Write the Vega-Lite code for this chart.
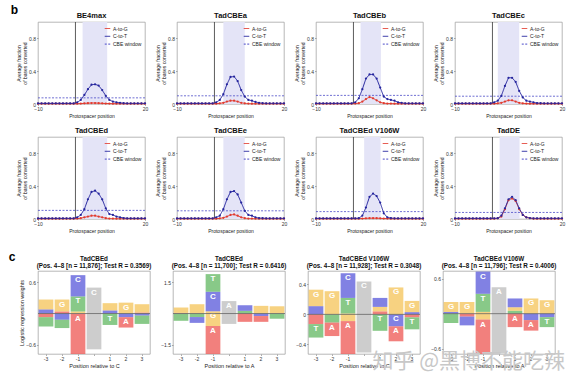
{
"$schema": "https://vega.github.io/schema/vega-lite/v6.json",
"background": "white",
"padding": {"left": 8, "top": 3, "right": 2, "bottom": 2},
"title": {"text": "知乎 @黑博不能吃辣", "orient": "bottom", "anchor": "end", "font": "Noto Sans CJK SC", "fontSize": 21, "fontWeight": "normal", "color": "#c8c8c8", "offset": -18, "dx": 0},
"config": {
  "font": "Liberation Sans",
  "view": {"stroke": "#9a9a9a", "strokeWidth": 0.7},
  "axis": {"labelFontSize": 5, "titleFontSize": 5, "titleFontWeight": "normal", "tickSize": 1.5, "tickWidth": 0.6, "tickColor": "#777", "labelPadding": 1, "titlePadding": 1.5, "domain": false, "grid": false, "labelColor": "#333", "titleColor": "#222", "titleLineHeight": 5.5, "labelOverlap": false, "labelFlush": false},
  "title": {"fontSize": 7.5, "fontWeight": "bold", "offset": 2, "color": "#111"},
  "legend": {"orient": "top-right", "offset": 3, "padding": 0, "rowPadding": 0.8, "labelFontSize": 5, "symbolSize": 30, "symbolStrokeWidth": 1, "symbolType": "stroke", "labelOffset": 2, "labelColor": "#222"}
},
"datasets": {
"windows": [
{"p":"BE4max","lo":2.5,"hi":9.4,"thr":0.075},
{"p":"TadCBEa","lo":3,"hi":9,"thr":0.1},
{"p":"TadCBEb","lo":2.5,"hi":8.2,"thr":0.105},
{"p":"TadCBEc","lo":2,"hi":8,"thr":0.095},
{"p":"TadCBEd","lo":2.5,"hi":9.4,"thr":0.105},
{"p":"TadCBEe","lo":3,"hi":9,"thr":0.1},
{"p":"TadCBEd V106W","lo":3.5,"hi":8.1,"thr":0.09},
{"p":"TadDE","lo":2.5,"hi":8.1,"thr":0.08}
],
"curves": [
{"p":"BE4max","x":-10,"A-to-G":0.004,"C-to-T":0.008},{"p":"BE4max","x":-9,"A-to-G":0.004,"C-to-T":0.008},{"p":"BE4max","x":-8,"A-to-G":0.004,"C-to-T":0.008},{"p":"BE4max","x":-7,"A-to-G":0.004,"C-to-T":0.008},{"p":"BE4max","x":-6,"A-to-G":0.004,"C-to-T":0.008},{"p":"BE4max","x":-5,"A-to-G":0.004,"C-to-T":0.008},{"p":"BE4max","x":-4,"A-to-G":0.004,"C-to-T":0.008},{"p":"BE4max","x":-3,"A-to-G":0.004,"C-to-T":0.008},{"p":"BE4max","x":-2,"A-to-G":0.004,"C-to-T":0.008},{"p":"BE4max","x":-1,"A-to-G":0.004,"C-to-T":0.008},{"p":"BE4max","x":0,"A-to-G":0.004,"C-to-T":0.008},
{"p":"BE4max","x":1,"A-to-G":0.004,"C-to-T":0.02},{"p":"BE4max","x":2,"A-to-G":0.005,"C-to-T":0.05},{"p":"BE4max","x":3,"A-to-G":0.008,"C-to-T":0.11},{"p":"BE4max","x":4,"A-to-G":0.01,"C-to-T":0.18},{"p":"BE4max","x":5,"A-to-G":0.012,"C-to-T":0.235},{"p":"BE4max","x":6,"A-to-G":0.012,"C-to-T":0.24},{"p":"BE4max","x":7,"A-to-G":0.01,"C-to-T":0.225},{"p":"BE4max","x":8,"A-to-G":0.008,"C-to-T":0.17},{"p":"BE4max","x":9,"A-to-G":0.006,"C-to-T":0.1},{"p":"BE4max","x":10,"A-to-G":0.005,"C-to-T":0.05},{"p":"BE4max","x":11,"A-to-G":0.004,"C-to-T":0.03},{"p":"BE4max","x":12,"A-to-G":0.004,"C-to-T":0.02},{"p":"BE4max","x":13,"A-to-G":0.004,"C-to-T":0.015},{"p":"BE4max","x":14,"A-to-G":0.004,"C-to-T":0.01},
{"p":"BE4max","x":15,"A-to-G":0.004,"C-to-T":0.008},{"p":"BE4max","x":16,"A-to-G":0.004,"C-to-T":0.008},{"p":"BE4max","x":17,"A-to-G":0.004,"C-to-T":0.008},{"p":"BE4max","x":18,"A-to-G":0.004,"C-to-T":0.008},{"p":"BE4max","x":19,"A-to-G":0.004,"C-to-T":0.008},{"p":"BE4max","x":20,"A-to-G":0.004,"C-to-T":0.008},

{"p":"TadCBEa","x":-10,"A-to-G":0.004,"C-to-T":0.008},{"p":"TadCBEa","x":-9,"A-to-G":0.004,"C-to-T":0.008},{"p":"TadCBEa","x":-8,"A-to-G":0.004,"C-to-T":0.008},{"p":"TadCBEa","x":-7,"A-to-G":0.004,"C-to-T":0.008},{"p":"TadCBEa","x":-6,"A-to-G":0.004,"C-to-T":0.008},{"p":"TadCBEa","x":-5,"A-to-G":0.004,"C-to-T":0.008},{"p":"TadCBEa","x":-4,"A-to-G":0.004,"C-to-T":0.008},{"p":"TadCBEa","x":-3,"A-to-G":0.004,"C-to-T":0.008},{"p":"TadCBEa","x":-2,"A-to-G":0.004,"C-to-T":0.008},{"p":"TadCBEa","x":-1,"A-to-G":0.004,"C-to-T":0.008},{"p":"TadCBEa","x":0,"A-to-G":0.004,"C-to-T":0.008},
{"p":"TadCBEa","x":1,"A-to-G":0.004,"C-to-T":0.02},{"p":"TadCBEa","x":2,"A-to-G":0.008,"C-to-T":0.05},{"p":"TadCBEa","x":3,"A-to-G":0.015,"C-to-T":0.12},{"p":"TadCBEa","x":4,"A-to-G":0.03,"C-to-T":0.24},{"p":"TadCBEa","x":5,"A-to-G":0.04,"C-to-T":0.33},{"p":"TadCBEa","x":6,"A-to-G":0.04,"C-to-T":0.335},{"p":"TadCBEa","x":7,"A-to-G":0.03,"C-to-T":0.28},{"p":"TadCBEa","x":8,"A-to-G":0.015,"C-to-T":0.17},{"p":"TadCBEa","x":9,"A-to-G":0.008,"C-to-T":0.09},{"p":"TadCBEa","x":10,"A-to-G":0.005,"C-to-T":0.05},{"p":"TadCBEa","x":11,"A-to-G":0.004,"C-to-T":0.04},{"p":"TadCBEa","x":12,"A-to-G":0.004,"C-to-T":0.025},{"p":"TadCBEa","x":13,"A-to-G":0.004,"C-to-T":0.015},{"p":"TadCBEa","x":14,"A-to-G":0.004,"C-to-T":0.01},
{"p":"TadCBEa","x":15,"A-to-G":0.004,"C-to-T":0.008},{"p":"TadCBEa","x":16,"A-to-G":0.004,"C-to-T":0.008},{"p":"TadCBEa","x":17,"A-to-G":0.004,"C-to-T":0.008},{"p":"TadCBEa","x":18,"A-to-G":0.004,"C-to-T":0.008},{"p":"TadCBEa","x":19,"A-to-G":0.004,"C-to-T":0.008},{"p":"TadCBEa","x":20,"A-to-G":0.004,"C-to-T":0.008},

{"p":"TadCBEb","x":-10,"A-to-G":0.004,"C-to-T":0.008},{"p":"TadCBEb","x":-9,"A-to-G":0.004,"C-to-T":0.008},{"p":"TadCBEb","x":-8,"A-to-G":0.004,"C-to-T":0.008},{"p":"TadCBEb","x":-7,"A-to-G":0.004,"C-to-T":0.008},{"p":"TadCBEb","x":-6,"A-to-G":0.004,"C-to-T":0.008},{"p":"TadCBEb","x":-5,"A-to-G":0.004,"C-to-T":0.008},{"p":"TadCBEb","x":-4,"A-to-G":0.004,"C-to-T":0.008},{"p":"TadCBEb","x":-3,"A-to-G":0.004,"C-to-T":0.008},{"p":"TadCBEb","x":-2,"A-to-G":0.004,"C-to-T":0.008},{"p":"TadCBEb","x":-1,"A-to-G":0.004,"C-to-T":0.008},{"p":"TadCBEb","x":0,"A-to-G":0.004,"C-to-T":0.008},
{"p":"TadCBEb","x":1,"A-to-G":0.005,"C-to-T":0.02},{"p":"TadCBEb","x":2,"A-to-G":0.01,"C-to-T":0.07},{"p":"TadCBEb","x":3,"A-to-G":0.03,"C-to-T":0.18},{"p":"TadCBEb","x":4,"A-to-G":0.06,"C-to-T":0.31},{"p":"TadCBEb","x":5,"A-to-G":0.085,"C-to-T":0.36},{"p":"TadCBEb","x":6,"A-to-G":0.07,"C-to-T":0.36},{"p":"TadCBEb","x":7,"A-to-G":0.045,"C-to-T":0.31},{"p":"TadCBEb","x":8,"A-to-G":0.02,"C-to-T":0.2},{"p":"TadCBEb","x":9,"A-to-G":0.01,"C-to-T":0.09},{"p":"TadCBEb","x":10,"A-to-G":0.006,"C-to-T":0.06},{"p":"TadCBEb","x":11,"A-to-G":0.005,"C-to-T":0.05},{"p":"TadCBEb","x":12,"A-to-G":0.004,"C-to-T":0.04},{"p":"TadCBEb","x":13,"A-to-G":0.004,"C-to-T":0.02},{"p":"TadCBEb","x":14,"A-to-G":0.004,"C-to-T":0.015},
{"p":"TadCBEb","x":15,"A-to-G":0.004,"C-to-T":0.008},{"p":"TadCBEb","x":16,"A-to-G":0.004,"C-to-T":0.008},{"p":"TadCBEb","x":17,"A-to-G":0.004,"C-to-T":0.008},{"p":"TadCBEb","x":18,"A-to-G":0.004,"C-to-T":0.008},{"p":"TadCBEb","x":19,"A-to-G":0.004,"C-to-T":0.008},{"p":"TadCBEb","x":20,"A-to-G":0.004,"C-to-T":0.008},

{"p":"TadCBEc","x":-10,"A-to-G":0.004,"C-to-T":0.008},{"p":"TadCBEc","x":-9,"A-to-G":0.004,"C-to-T":0.008},{"p":"TadCBEc","x":-8,"A-to-G":0.004,"C-to-T":0.008},{"p":"TadCBEc","x":-7,"A-to-G":0.004,"C-to-T":0.008},{"p":"TadCBEc","x":-6,"A-to-G":0.004,"C-to-T":0.008},{"p":"TadCBEc","x":-5,"A-to-G":0.004,"C-to-T":0.008},{"p":"TadCBEc","x":-4,"A-to-G":0.004,"C-to-T":0.008},{"p":"TadCBEc","x":-3,"A-to-G":0.004,"C-to-T":0.008},{"p":"TadCBEc","x":-2,"A-to-G":0.004,"C-to-T":0.008},{"p":"TadCBEc","x":-1,"A-to-G":0.004,"C-to-T":0.008},{"p":"TadCBEc","x":0,"A-to-G":0.004,"C-to-T":0.008},
{"p":"TadCBEc","x":1,"A-to-G":0.004,"C-to-T":0.02},{"p":"TadCBEc","x":2,"A-to-G":0.008,"C-to-T":0.04},{"p":"TadCBEc","x":3,"A-to-G":0.015,"C-to-T":0.1},{"p":"TadCBEc","x":4,"A-to-G":0.03,"C-to-T":0.22},{"p":"TadCBEc","x":5,"A-to-G":0.045,"C-to-T":0.32},{"p":"TadCBEc","x":6,"A-to-G":0.045,"C-to-T":0.32},{"p":"TadCBEc","x":7,"A-to-G":0.03,"C-to-T":0.27},{"p":"TadCBEc","x":8,"A-to-G":0.015,"C-to-T":0.16},{"p":"TadCBEc","x":9,"A-to-G":0.008,"C-to-T":0.08},{"p":"TadCBEc","x":10,"A-to-G":0.005,"C-to-T":0.04},{"p":"TadCBEc","x":11,"A-to-G":0.004,"C-to-T":0.03},{"p":"TadCBEc","x":12,"A-to-G":0.004,"C-to-T":0.02},{"p":"TadCBEc","x":13,"A-to-G":0.004,"C-to-T":0.012},{"p":"TadCBEc","x":14,"A-to-G":0.004,"C-to-T":0.01},
{"p":"TadCBEc","x":15,"A-to-G":0.004,"C-to-T":0.008},{"p":"TadCBEc","x":16,"A-to-G":0.004,"C-to-T":0.008},{"p":"TadCBEc","x":17,"A-to-G":0.004,"C-to-T":0.008},{"p":"TadCBEc","x":18,"A-to-G":0.004,"C-to-T":0.008},{"p":"TadCBEc","x":19,"A-to-G":0.004,"C-to-T":0.008},{"p":"TadCBEc","x":20,"A-to-G":0.004,"C-to-T":0.008},

{"p":"TadCBEd","x":-10,"A-to-G":0.004,"C-to-T":0.008},{"p":"TadCBEd","x":-9,"A-to-G":0.004,"C-to-T":0.008},{"p":"TadCBEd","x":-8,"A-to-G":0.004,"C-to-T":0.008},{"p":"TadCBEd","x":-7,"A-to-G":0.004,"C-to-T":0.008},{"p":"TadCBEd","x":-6,"A-to-G":0.004,"C-to-T":0.008},{"p":"TadCBEd","x":-5,"A-to-G":0.004,"C-to-T":0.008},{"p":"TadCBEd","x":-4,"A-to-G":0.004,"C-to-T":0.008},{"p":"TadCBEd","x":-3,"A-to-G":0.004,"C-to-T":0.008},{"p":"TadCBEd","x":-2,"A-to-G":0.004,"C-to-T":0.008},{"p":"TadCBEd","x":-1,"A-to-G":0.004,"C-to-T":0.008},{"p":"TadCBEd","x":0,"A-to-G":0.004,"C-to-T":0.008},
{"p":"TadCBEd","x":1,"A-to-G":0.005,"C-to-T":0.02},{"p":"TadCBEd","x":2,"A-to-G":0.01,"C-to-T":0.05},{"p":"TadCBEd","x":3,"A-to-G":0.02,"C-to-T":0.12},{"p":"TadCBEd","x":4,"A-to-G":0.03,"C-to-T":0.24},{"p":"TadCBEd","x":5,"A-to-G":0.04,"C-to-T":0.33},{"p":"TadCBEd","x":6,"A-to-G":0.04,"C-to-T":0.345},{"p":"TadCBEd","x":7,"A-to-G":0.03,"C-to-T":0.31},{"p":"TadCBEd","x":8,"A-to-G":0.02,"C-to-T":0.24},{"p":"TadCBEd","x":9,"A-to-G":0.01,"C-to-T":0.13},{"p":"TadCBEd","x":10,"A-to-G":0.006,"C-to-T":0.06},{"p":"TadCBEd","x":11,"A-to-G":0.005,"C-to-T":0.05},{"p":"TadCBEd","x":12,"A-to-G":0.004,"C-to-T":0.03},{"p":"TadCBEd","x":13,"A-to-G":0.004,"C-to-T":0.02},{"p":"TadCBEd","x":14,"A-to-G":0.004,"C-to-T":0.012},
{"p":"TadCBEd","x":15,"A-to-G":0.004,"C-to-T":0.008},{"p":"TadCBEd","x":16,"A-to-G":0.004,"C-to-T":0.008},{"p":"TadCBEd","x":17,"A-to-G":0.004,"C-to-T":0.008},{"p":"TadCBEd","x":18,"A-to-G":0.004,"C-to-T":0.008},{"p":"TadCBEd","x":19,"A-to-G":0.004,"C-to-T":0.008},{"p":"TadCBEd","x":20,"A-to-G":0.004,"C-to-T":0.008},

{"p":"TadCBEe","x":-10,"A-to-G":0.004,"C-to-T":0.008},{"p":"TadCBEe","x":-9,"A-to-G":0.004,"C-to-T":0.008},{"p":"TadCBEe","x":-8,"A-to-G":0.004,"C-to-T":0.008},{"p":"TadCBEe","x":-7,"A-to-G":0.004,"C-to-T":0.008},{"p":"TadCBEe","x":-6,"A-to-G":0.004,"C-to-T":0.008},{"p":"TadCBEe","x":-5,"A-to-G":0.004,"C-to-T":0.008},{"p":"TadCBEe","x":-4,"A-to-G":0.004,"C-to-T":0.008},{"p":"TadCBEe","x":-3,"A-to-G":0.004,"C-to-T":0.008},{"p":"TadCBEe","x":-2,"A-to-G":0.004,"C-to-T":0.008},{"p":"TadCBEe","x":-1,"A-to-G":0.004,"C-to-T":0.008},{"p":"TadCBEe","x":0,"A-to-G":0.004,"C-to-T":0.008},
{"p":"TadCBEe","x":1,"A-to-G":0.004,"C-to-T":0.02},{"p":"TadCBEe","x":2,"A-to-G":0.008,"C-to-T":0.04},{"p":"TadCBEe","x":3,"A-to-G":0.015,"C-to-T":0.12},{"p":"TadCBEe","x":4,"A-to-G":0.03,"C-to-T":0.24},{"p":"TadCBEe","x":5,"A-to-G":0.05,"C-to-T":0.33},{"p":"TadCBEe","x":6,"A-to-G":0.055,"C-to-T":0.34},{"p":"TadCBEe","x":7,"A-to-G":0.04,"C-to-T":0.3},{"p":"TadCBEe","x":8,"A-to-G":0.02,"C-to-T":0.2},{"p":"TadCBEe","x":9,"A-to-G":0.01,"C-to-T":0.1},{"p":"TadCBEe","x":10,"A-to-G":0.006,"C-to-T":0.05},{"p":"TadCBEe","x":11,"A-to-G":0.005,"C-to-T":0.04},{"p":"TadCBEe","x":12,"A-to-G":0.004,"C-to-T":0.02},{"p":"TadCBEe","x":13,"A-to-G":0.004,"C-to-T":0.012},{"p":"TadCBEe","x":14,"A-to-G":0.004,"C-to-T":0.01},
{"p":"TadCBEe","x":15,"A-to-G":0.004,"C-to-T":0.008},{"p":"TadCBEe","x":16,"A-to-G":0.004,"C-to-T":0.008},{"p":"TadCBEe","x":17,"A-to-G":0.004,"C-to-T":0.008},{"p":"TadCBEe","x":18,"A-to-G":0.004,"C-to-T":0.008},{"p":"TadCBEe","x":19,"A-to-G":0.004,"C-to-T":0.008},{"p":"TadCBEe","x":20,"A-to-G":0.004,"C-to-T":0.008},

{"p":"TadCBEd V106W","x":-10,"A-to-G":0.004,"C-to-T":0.008},{"p":"TadCBEd V106W","x":-9,"A-to-G":0.004,"C-to-T":0.008},{"p":"TadCBEd V106W","x":-8,"A-to-G":0.004,"C-to-T":0.008},{"p":"TadCBEd V106W","x":-7,"A-to-G":0.004,"C-to-T":0.008},{"p":"TadCBEd V106W","x":-6,"A-to-G":0.004,"C-to-T":0.008},{"p":"TadCBEd V106W","x":-5,"A-to-G":0.004,"C-to-T":0.008},{"p":"TadCBEd V106W","x":-4,"A-to-G":0.004,"C-to-T":0.008},{"p":"TadCBEd V106W","x":-3,"A-to-G":0.004,"C-to-T":0.008},{"p":"TadCBEd V106W","x":-2,"A-to-G":0.004,"C-to-T":0.008},{"p":"TadCBEd V106W","x":-1,"A-to-G":0.004,"C-to-T":0.008},{"p":"TadCBEd V106W","x":0,"A-to-G":0.004,"C-to-T":0.008},
{"p":"TadCBEd V106W","x":1,"A-to-G":0.004,"C-to-T":0.008},{"p":"TadCBEd V106W","x":2,"A-to-G":0.004,"C-to-T":0.01},{"p":"TadCBEd V106W","x":3,"A-to-G":0.006,"C-to-T":0.04},{"p":"TadCBEd V106W","x":4,"A-to-G":0.008,"C-to-T":0.14},{"p":"TadCBEd V106W","x":5,"A-to-G":0.01,"C-to-T":0.27},{"p":"TadCBEd V106W","x":6,"A-to-G":0.01,"C-to-T":0.31},{"p":"TadCBEd V106W","x":7,"A-to-G":0.01,"C-to-T":0.28},{"p":"TadCBEd V106W","x":8,"A-to-G":0.008,"C-to-T":0.2},{"p":"TadCBEd V106W","x":9,"A-to-G":0.006,"C-to-T":0.07},{"p":"TadCBEd V106W","x":10,"A-to-G":0.005,"C-to-T":0.02},{"p":"TadCBEd V106W","x":11,"A-to-G":0.004,"C-to-T":0.012},{"p":"TadCBEd V106W","x":12,"A-to-G":0.004,"C-to-T":0.008},{"p":"TadCBEd V106W","x":13,"A-to-G":0.004,"C-to-T":0.008},{"p":"TadCBEd V106W","x":14,"A-to-G":0.004,"C-to-T":0.008},
{"p":"TadCBEd V106W","x":15,"A-to-G":0.004,"C-to-T":0.008},{"p":"TadCBEd V106W","x":16,"A-to-G":0.004,"C-to-T":0.008},{"p":"TadCBEd V106W","x":17,"A-to-G":0.004,"C-to-T":0.008},{"p":"TadCBEd V106W","x":18,"A-to-G":0.004,"C-to-T":0.008},{"p":"TadCBEd V106W","x":19,"A-to-G":0.004,"C-to-T":0.008},{"p":"TadCBEd V106W","x":20,"A-to-G":0.004,"C-to-T":0.008},

{"p":"TadDE","x":-10,"A-to-G":0.004,"C-to-T":0.008},{"p":"TadDE","x":-9,"A-to-G":0.004,"C-to-T":0.008},{"p":"TadDE","x":-8,"A-to-G":0.004,"C-to-T":0.008},{"p":"TadDE","x":-7,"A-to-G":0.004,"C-to-T":0.008},{"p":"TadDE","x":-6,"A-to-G":0.004,"C-to-T":0.008},{"p":"TadDE","x":-5,"A-to-G":0.004,"C-to-T":0.008},{"p":"TadDE","x":-4,"A-to-G":0.004,"C-to-T":0.008},{"p":"TadDE","x":-3,"A-to-G":0.004,"C-to-T":0.008},{"p":"TadDE","x":-2,"A-to-G":0.004,"C-to-T":0.008},{"p":"TadDE","x":-1,"A-to-G":0.004,"C-to-T":0.008},{"p":"TadDE","x":0,"A-to-G":0.004,"C-to-T":0.008},
{"p":"TadDE","x":1,"A-to-G":0.004,"C-to-T":0.008},{"p":"TadDE","x":2,"A-to-G":0.008,"C-to-T":0.01},{"p":"TadDE","x":3,"A-to-G":0.03,"C-to-T":0.04},{"p":"TadDE","x":4,"A-to-G":0.12,"C-to-T":0.13},{"p":"TadDE","x":5,"A-to-G":0.23,"C-to-T":0.24},{"p":"TadDE","x":6,"A-to-G":0.25,"C-to-T":0.27},{"p":"TadDE","x":7,"A-to-G":0.22,"C-to-T":0.23},{"p":"TadDE","x":8,"A-to-G":0.12,"C-to-T":0.13},{"p":"TadDE","x":9,"A-to-G":0.05,"C-to-T":0.05},{"p":"TadDE","x":10,"A-to-G":0.02,"C-to-T":0.02},{"p":"TadDE","x":11,"A-to-G":0.01,"C-to-T":0.012},{"p":"TadDE","x":12,"A-to-G":0.004,"C-to-T":0.008},{"p":"TadDE","x":13,"A-to-G":0.004,"C-to-T":0.008},{"p":"TadDE","x":14,"A-to-G":0.004,"C-to-T":0.008},
{"p":"TadDE","x":15,"A-to-G":0.004,"C-to-T":0.008},{"p":"TadDE","x":16,"A-to-G":0.004,"C-to-T":0.008},{"p":"TadDE","x":17,"A-to-G":0.004,"C-to-T":0.008},{"p":"TadDE","x":18,"A-to-G":0.004,"C-to-T":0.008},{"p":"TadDE","x":19,"A-to-G":0.004,"C-to-T":0.008},{"p":"TadDE","x":20,"A-to-G":0.004,"C-to-T":0.008}
],
"logo": [
{"p":"d_C","pos":"-3","b":"C","lo":0,"hi":0.08},{"p":"d_C","pos":"-3","b":"G","lo":0.08,"hi":0.27},{"p":"d_C","pos":"-3","b":"A","lo":-0.07,"hi":0},{"p":"d_C","pos":"-3","b":"T","lo":-0.25,"hi":-0.07},
{"p":"d_C","pos":"-2","b":"A","lo":0,"hi":0.04},{"p":"d_C","pos":"-2","b":"G","lo":0.04,"hi":0.27},{"p":"d_C","pos":"-2","b":"C","lo":-0.12,"hi":0},{"p":"d_C","pos":"-2","b":"T","lo":-0.28,"hi":-0.12},
{"p":"d_C","pos":"-1","b":"G","lo":0,"hi":0.04},{"p":"d_C","pos":"-1","b":"T","lo":0.04,"hi":0.33},{"p":"d_C","pos":"-1","b":"C","lo":0.33,"hi":0.74},{"p":"d_C","pos":"-1","b":"A","lo":-0.78,"hi":0},
{"p":"d_C","pos":"1","b":"C","lo":0,"hi":0.06},{"p":"d_C","pos":"1","b":"G","lo":0.06,"hi":0.2},{"p":"d_C","pos":"1","b":"T","lo":-0.22,"hi":0},
{"p":"d_C","pos":"2","b":"G","lo":0,"hi":0.21},{"p":"d_C","pos":"2","b":"C","lo":-0.07,"hi":0},{"p":"d_C","pos":"2","b":"A","lo":-0.27,"hi":-0.07},
{"p":"d_C","pos":"3","b":"A","lo":0,"hi":0.02},{"p":"d_C","pos":"3","b":"G","lo":0.02,"hi":0.18},{"p":"d_C","pos":"3","b":"C","lo":-0.04,"hi":0},{"p":"d_C","pos":"3","b":"T","lo":-0.2,"hi":-0.04},

{"p":"d_A","pos":"-3","b":"A","lo":0,"hi":0.03},{"p":"d_A","pos":"-3","b":"G","lo":0.03,"hi":0.29},{"p":"d_A","pos":"-3","b":"T","lo":-0.35,"hi":0},
{"p":"d_A","pos":"-2","b":"G","lo":0,"hi":0.45},{"p":"d_A","pos":"-2","b":"T","lo":-0.17,"hi":0},{"p":"d_A","pos":"-2","b":"C","lo":-0.45,"hi":-0.17},
{"p":"d_A","pos":"-1","b":"C","lo":0.1,"hi":1.05},{"p":"d_A","pos":"-1","b":"T","lo":1.05,"hi":1.9},{"p":"d_A","pos":"-1","b":"G","lo":-0.6,"hi":0.1},{"p":"d_A","pos":"-1","b":"A","lo":-1.95,"hi":-0.6},
{"p":"d_A","pos":"1","b":"T","lo":0,"hi":0.13},{"p":"d_A","pos":"1","b":"C","lo":0.13,"hi":0.4},{"p":"d_A","pos":"1","b":"A","lo":-0.4,"hi":0},
{"p":"d_A","pos":"2","b":"G","lo":0,"hi":0.37},{"p":"d_A","pos":"2","b":"C","lo":-0.12,"hi":0},{"p":"d_A","pos":"2","b":"A","lo":-0.4,"hi":-0.12},
{"p":"d_A","pos":"3","b":"G","lo":0,"hi":0.35},{"p":"d_A","pos":"3","b":"T","lo":-0.25,"hi":0},

{"p":"w_C","pos":"-3","b":"C","lo":0,"hi":0.11},{"p":"w_C","pos":"-3","b":"G","lo":0.11,"hi":0.33},{"p":"w_C","pos":"-3","b":"A","lo":-0.13,"hi":0},{"p":"w_C","pos":"-3","b":"T","lo":-0.31,"hi":-0.13},
{"p":"w_C","pos":"-2","b":"G","lo":0,"hi":0.31},{"p":"w_C","pos":"-2","b":"T","lo":-0.11,"hi":0},{"p":"w_C","pos":"-2","b":"A","lo":-0.29,"hi":-0.11},
{"p":"w_C","pos":"-1","b":"T","lo":0.01,"hi":0.22},{"p":"w_C","pos":"-1","b":"C","lo":0.22,"hi":0.55},{"p":"w_C","pos":"-1","b":"G","lo":-0.09,"hi":0.01},{"p":"w_C","pos":"-1","b":"A","lo":-0.53,"hi":-0.09},
{"p":"w_C","pos":"1","b":"A","lo":0,"hi":0.04},{"p":"w_C","pos":"1","b":"G","lo":0.04,"hi":0.1},{"p":"w_C","pos":"1","b":"C","lo":0.1,"hi":0.22},{"p":"w_C","pos":"1","b":"T","lo":-0.22,"hi":0},
{"p":"w_C","pos":"2","b":"G","lo":0,"hi":0.36},{"p":"w_C","pos":"2","b":"C","lo":-0.16,"hi":0},{"p":"w_C","pos":"2","b":"A","lo":-0.36,"hi":-0.16},
{"p":"w_C","pos":"3","b":"C","lo":0,"hi":0.03},{"p":"w_C","pos":"3","b":"G","lo":0.03,"hi":0.18},{"p":"w_C","pos":"3","b":"A","lo":-0.04,"hi":0},{"p":"w_C","pos":"3","b":"T","lo":-0.2,"hi":-0.04},

{"p":"w_A","pos":"-3","b":"C","lo":0,"hi":0.03},{"p":"w_A","pos":"-3","b":"G","lo":0.03,"hi":0.2},{"p":"w_A","pos":"-3","b":"T","lo":-0.16,"hi":0},
{"p":"w_A","pos":"-2","b":"G","lo":0,"hi":0.2},{"p":"w_A","pos":"-2","b":"A","lo":-0.05,"hi":0},{"p":"w_A","pos":"-2","b":"C","lo":-0.2,"hi":-0.05},
{"p":"w_A","pos":"-1","b":"T","lo":0.03,"hi":0.34},{"p":"w_A","pos":"-1","b":"C","lo":0.34,"hi":0.72},{"p":"w_A","pos":"-1","b":"G","lo":-0.1,"hi":0.03},{"p":"w_A","pos":"-1","b":"A","lo":-0.69,"hi":-0.1},
{"p":"w_A","pos":"1","b":"T","lo":0,"hi":0.05},{"p":"w_A","pos":"1","b":"G","lo":0.05,"hi":0.11},{"p":"w_A","pos":"1","b":"C","lo":0.11,"hi":0.26},{"p":"w_A","pos":"1","b":"A","lo":-0.23,"hi":0},
{"p":"w_A","pos":"2","b":"G","lo":0,"hi":0.26},{"p":"w_A","pos":"2","b":"C","lo":-0.11,"hi":0},{"p":"w_A","pos":"2","b":"A","lo":-0.29,"hi":-0.11},
{"p":"w_A","pos":"3","b":"G","lo":0,"hi":0.23},{"p":"w_A","pos":"3","b":"C","lo":-0.06,"hi":0},{"p":"w_A","pos":"3","b":"T","lo":-0.23,"hi":-0.06}
],
"target": [
{"p":"d_C","pos":"0","b":"C","lo":-0.69,"hi":0.5},
{"p":"d_A","pos":"0","b":"A","lo":-0.5,"hi":0.6},
{"p":"w_C","pos":"0","b":"C","lo":-0.51,"hi":0.44},
{"p":"w_A","pos":"0","b":"A","lo":-0.68,"hi":0.45}
]
},
"resolve": {"scale": {"color": "independent", "strokeDash": "independent"}},
"spacing": 17,
"vconcat": [
{
"title": {"text": "b", "anchor": "start", "fontSize": 12, "fontWeight": "bold", "dx": -5.5, "offset": -5, "color": "#000"},
"resolve": {"scale": {"color": "independent", "strokeDash": "independent"}},
"spacing": 7,
"vconcat": [
{"spacing": 32, "bounds": "flush", "resolve": {"scale": {"color": "independent", "strokeDash": "independent"}},
"hconcat": [
{"width":107,"height":82,"title":"BE4max","layer":[
 {"data":{"name":"windows"},"transform":[{"filter":"datum.p=='BE4max'"}],"mark":{"type":"rect","color":"#e4e4f7"},"encoding":{"x":{"field":"lo","type":"quantitative","scale":{"domain":[-10,20],"nice":false},"axis":{"values":[-10,-5,0,5,10,15,20],"labelOverlap":false,"labelFlush":false,"title":"Protospacer position"}},"x2":{"field":"hi"},"y":{"datum":0,"type":"quantitative","scale":{"domain":[0,1],"nice":false},"axis":{"values":[0,0.2,0.4,0.6,0.8,1],"labelOverlap":false,"labelFlush":false,"labelExpr":"datum.value==0?'0':format(datum.value,'.1f')","title":["Average fraction","of bases converted"]}},"y2":{"datum":1}}},
 {"data":{"values":[{}]},"mark":{"type":"rule","color":"#333","strokeWidth":0.8},"encoding":{"x":{"datum":0.5}}},
 {"data":{"name":"windows"},"transform":[{"filter":"datum.p=='BE4max'"}],"mark":{"type":"rule","strokeWidth":0.8},"encoding":{"y":{"field":"thr","type":"quantitative"},"color":{"datum":"CBE window"},"strokeDash":{"datum":"CBE window"}}},
 {"data":{"name":"curves"},"transform":[{"filter":"datum.p=='BE4max'"},{"fold":["A-to-G","C-to-T"],"as":["series","value"]}],"mark":{"type":"line","strokeWidth":1,"point":{"filled":true,"size":5}},"encoding":{"x":{"field":"x","type":"quantitative"},"y":{"field":"value","type":"quantitative"},"color":{"field":"series","type":"nominal","scale":{"domain":["A-to-G","C-to-T","CBE window"],"range":["#e23a2e","#25259e","#4b4bc8"]},"legend":{"title":null}},"strokeDash":{"field":"series","type":"nominal","scale":{"domain":["A-to-G","C-to-T","CBE window"],"range":[[1,0],[1,0],[2,1.5]]},"legend":{"title":null}}}}
]},
{"width":107,"height":82,"title":"TadCBEa","layer":[
 {"data":{"name":"windows"},"transform":[{"filter":"datum.p=='TadCBEa'"}],"mark":{"type":"rect","color":"#e4e4f7"},"encoding":{"x":{"field":"lo","type":"quantitative","scale":{"domain":[-10,20],"nice":false},"axis":{"values":[-10,-5,0,5,10,15,20],"labelOverlap":false,"labelFlush":false,"title":"Protospacer position"}},"x2":{"field":"hi"},"y":{"datum":0,"type":"quantitative","scale":{"domain":[0,1],"nice":false},"axis":{"values":[0,0.2,0.4,0.6,0.8,1],"labelOverlap":false,"labelFlush":false,"labelExpr":"datum.value==0?'0':format(datum.value,'.1f')","title":["Average fraction","of bases converted"]}},"y2":{"datum":1}}},
 {"data":{"values":[{}]},"mark":{"type":"rule","color":"#333","strokeWidth":0.8},"encoding":{"x":{"datum":0.5}}},
 {"data":{"name":"windows"},"transform":[{"filter":"datum.p=='TadCBEa'"}],"mark":{"type":"rule","strokeWidth":0.8},"encoding":{"y":{"field":"thr","type":"quantitative"},"color":{"datum":"CBE window"},"strokeDash":{"datum":"CBE window"}}},
 {"data":{"name":"curves"},"transform":[{"filter":"datum.p=='TadCBEa'"},{"fold":["A-to-G","C-to-T"],"as":["series","value"]}],"mark":{"type":"line","strokeWidth":1,"point":{"filled":true,"size":5}},"encoding":{"x":{"field":"x","type":"quantitative"},"y":{"field":"value","type":"quantitative"},"color":{"field":"series","type":"nominal","scale":{"domain":["A-to-G","C-to-T","CBE window"],"range":["#e23a2e","#25259e","#4b4bc8"]},"legend":{"title":null}},"strokeDash":{"field":"series","type":"nominal","scale":{"domain":["A-to-G","C-to-T","CBE window"],"range":[[1,0],[1,0],[2,1.5]]},"legend":{"title":null}}}}
]},
{"width":107,"height":82,"title":"TadCBEb","layer":[
 {"data":{"name":"windows"},"transform":[{"filter":"datum.p=='TadCBEb'"}],"mark":{"type":"rect","color":"#e4e4f7"},"encoding":{"x":{"field":"lo","type":"quantitative","scale":{"domain":[-10,20],"nice":false},"axis":{"values":[-10,-5,0,5,10,15,20],"labelOverlap":false,"labelFlush":false,"title":"Protospacer position"}},"x2":{"field":"hi"},"y":{"datum":0,"type":"quantitative","scale":{"domain":[0,1],"nice":false},"axis":{"values":[0,0.2,0.4,0.6,0.8,1],"labelOverlap":false,"labelFlush":false,"labelExpr":"datum.value==0?'0':format(datum.value,'.1f')","title":["Average fraction","of bases converted"]}},"y2":{"datum":1}}},
 {"data":{"values":[{}]},"mark":{"type":"rule","color":"#333","strokeWidth":0.8},"encoding":{"x":{"datum":0.5}}},
 {"data":{"name":"windows"},"transform":[{"filter":"datum.p=='TadCBEb'"}],"mark":{"type":"rule","strokeWidth":0.8},"encoding":{"y":{"field":"thr","type":"quantitative"},"color":{"datum":"CBE window"},"strokeDash":{"datum":"CBE window"}}},
 {"data":{"name":"curves"},"transform":[{"filter":"datum.p=='TadCBEb'"},{"fold":["A-to-G","C-to-T"],"as":["series","value"]}],"mark":{"type":"line","strokeWidth":1,"point":{"filled":true,"size":5}},"encoding":{"x":{"field":"x","type":"quantitative"},"y":{"field":"value","type":"quantitative"},"color":{"field":"series","type":"nominal","scale":{"domain":["A-to-G","C-to-T","CBE window"],"range":["#e23a2e","#25259e","#4b4bc8"]},"legend":{"title":null}},"strokeDash":{"field":"series","type":"nominal","scale":{"domain":["A-to-G","C-to-T","CBE window"],"range":[[1,0],[1,0],[2,1.5]]},"legend":{"title":null}}}}
]},
{"width":107,"height":82,"title":"TadCBEc","layer":[
 {"data":{"name":"windows"},"transform":[{"filter":"datum.p=='TadCBEc'"}],"mark":{"type":"rect","color":"#e4e4f7"},"encoding":{"x":{"field":"lo","type":"quantitative","scale":{"domain":[-10,20],"nice":false},"axis":{"values":[-10,-5,0,5,10,15,20],"labelOverlap":false,"labelFlush":false,"title":"Protospacer position"}},"x2":{"field":"hi"},"y":{"datum":0,"type":"quantitative","scale":{"domain":[0,1],"nice":false},"axis":{"values":[0,0.2,0.4,0.6,0.8,1],"labelOverlap":false,"labelFlush":false,"labelExpr":"datum.value==0?'0':format(datum.value,'.1f')","title":["Average fraction","of bases converted"]}},"y2":{"datum":1}}},
 {"data":{"values":[{}]},"mark":{"type":"rule","color":"#333","strokeWidth":0.8},"encoding":{"x":{"datum":0.5}}},
 {"data":{"name":"windows"},"transform":[{"filter":"datum.p=='TadCBEc'"}],"mark":{"type":"rule","strokeWidth":0.8},"encoding":{"y":{"field":"thr","type":"quantitative"},"color":{"datum":"CBE window"},"strokeDash":{"datum":"CBE window"}}},
 {"data":{"name":"curves"},"transform":[{"filter":"datum.p=='TadCBEc'"},{"fold":["A-to-G","C-to-T"],"as":["series","value"]}],"mark":{"type":"line","strokeWidth":1,"point":{"filled":true,"size":5}},"encoding":{"x":{"field":"x","type":"quantitative"},"y":{"field":"value","type":"quantitative"},"color":{"field":"series","type":"nominal","scale":{"domain":["A-to-G","C-to-T","CBE window"],"range":["#e23a2e","#25259e","#4b4bc8"]},"legend":{"title":null}},"strokeDash":{"field":"series","type":"nominal","scale":{"domain":["A-to-G","C-to-T","CBE window"],"range":[[1,0],[1,0],[2,1.5]]},"legend":{"title":null}}}}
]}
]},
{"spacing": 32, "bounds": "flush", "resolve": {"scale": {"color": "independent", "strokeDash": "independent"}},
"hconcat": [
{"width":107,"height":82,"title":"TadCBEd","layer":[
 {"data":{"name":"windows"},"transform":[{"filter":"datum.p=='TadCBEd'"}],"mark":{"type":"rect","color":"#e4e4f7"},"encoding":{"x":{"field":"lo","type":"quantitative","scale":{"domain":[-10,20],"nice":false},"axis":{"values":[-10,-5,0,5,10,15,20],"labelOverlap":false,"labelFlush":false,"title":"Protospacer position"}},"x2":{"field":"hi"},"y":{"datum":0,"type":"quantitative","scale":{"domain":[0,1],"nice":false},"axis":{"values":[0,0.2,0.4,0.6,0.8,1],"labelOverlap":false,"labelFlush":false,"labelExpr":"datum.value==0?'0':format(datum.value,'.1f')","title":["Average fraction","of bases converted"]}},"y2":{"datum":1}}},
 {"data":{"values":[{}]},"mark":{"type":"rule","color":"#333","strokeWidth":0.8},"encoding":{"x":{"datum":0.5}}},
 {"data":{"name":"windows"},"transform":[{"filter":"datum.p=='TadCBEd'"}],"mark":{"type":"rule","strokeWidth":0.8},"encoding":{"y":{"field":"thr","type":"quantitative"},"color":{"datum":"CBE window"},"strokeDash":{"datum":"CBE window"}}},
 {"data":{"name":"curves"},"transform":[{"filter":"datum.p=='TadCBEd'"},{"fold":["A-to-G","C-to-T"],"as":["series","value"]}],"mark":{"type":"line","strokeWidth":1,"point":{"filled":true,"size":5}},"encoding":{"x":{"field":"x","type":"quantitative"},"y":{"field":"value","type":"quantitative"},"color":{"field":"series","type":"nominal","scale":{"domain":["A-to-G","C-to-T","CBE window"],"range":["#e23a2e","#25259e","#4b4bc8"]},"legend":{"title":null}},"strokeDash":{"field":"series","type":"nominal","scale":{"domain":["A-to-G","C-to-T","CBE window"],"range":[[1,0],[1,0],[2,1.5]]},"legend":{"title":null}}}}
]},
{"width":107,"height":82,"title":"TadCBEe","layer":[
 {"data":{"name":"windows"},"transform":[{"filter":"datum.p=='TadCBEe'"}],"mark":{"type":"rect","color":"#e4e4f7"},"encoding":{"x":{"field":"lo","type":"quantitative","scale":{"domain":[-10,20],"nice":false},"axis":{"values":[-10,-5,0,5,10,15,20],"labelOverlap":false,"labelFlush":false,"title":"Protospacer position"}},"x2":{"field":"hi"},"y":{"datum":0,"type":"quantitative","scale":{"domain":[0,1],"nice":false},"axis":{"values":[0,0.2,0.4,0.6,0.8,1],"labelOverlap":false,"labelFlush":false,"labelExpr":"datum.value==0?'0':format(datum.value,'.1f')","title":["Average fraction","of bases converted"]}},"y2":{"datum":1}}},
 {"data":{"values":[{}]},"mark":{"type":"rule","color":"#333","strokeWidth":0.8},"encoding":{"x":{"datum":0.5}}},
 {"data":{"name":"windows"},"transform":[{"filter":"datum.p=='TadCBEe'"}],"mark":{"type":"rule","strokeWidth":0.8},"encoding":{"y":{"field":"thr","type":"quantitative"},"color":{"datum":"CBE window"},"strokeDash":{"datum":"CBE window"}}},
 {"data":{"name":"curves"},"transform":[{"filter":"datum.p=='TadCBEe'"},{"fold":["A-to-G","C-to-T"],"as":["series","value"]}],"mark":{"type":"line","strokeWidth":1,"point":{"filled":true,"size":5}},"encoding":{"x":{"field":"x","type":"quantitative"},"y":{"field":"value","type":"quantitative"},"color":{"field":"series","type":"nominal","scale":{"domain":["A-to-G","C-to-T","CBE window"],"range":["#e23a2e","#25259e","#4b4bc8"]},"legend":{"title":null}},"strokeDash":{"field":"series","type":"nominal","scale":{"domain":["A-to-G","C-to-T","CBE window"],"range":[[1,0],[1,0],[2,1.5]]},"legend":{"title":null}}}}
]},
{"width":107,"height":82,"title":"TadCBEd V106W","layer":[
 {"data":{"name":"windows"},"transform":[{"filter":"datum.p=='TadCBEd V106W'"}],"mark":{"type":"rect","color":"#e4e4f7"},"encoding":{"x":{"field":"lo","type":"quantitative","scale":{"domain":[-10,20],"nice":false},"axis":{"values":[-10,-5,0,5,10,15,20],"labelOverlap":false,"labelFlush":false,"title":"Protospacer position"}},"x2":{"field":"hi"},"y":{"datum":0,"type":"quantitative","scale":{"domain":[0,1],"nice":false},"axis":{"values":[0,0.2,0.4,0.6,0.8,1],"labelOverlap":false,"labelFlush":false,"labelExpr":"datum.value==0?'0':format(datum.value,'.1f')","title":["Average fraction","of bases converted"]}},"y2":{"datum":1}}},
 {"data":{"values":[{}]},"mark":{"type":"rule","color":"#333","strokeWidth":0.8},"encoding":{"x":{"datum":0.5}}},
 {"data":{"name":"windows"},"transform":[{"filter":"datum.p=='TadCBEd V106W'"}],"mark":{"type":"rule","strokeWidth":0.8},"encoding":{"y":{"field":"thr","type":"quantitative"},"color":{"datum":"CBE window"},"strokeDash":{"datum":"CBE window"}}},
 {"data":{"name":"curves"},"transform":[{"filter":"datum.p=='TadCBEd V106W'"},{"fold":["A-to-G","C-to-T"],"as":["series","value"]}],"mark":{"type":"line","strokeWidth":1,"point":{"filled":true,"size":5}},"encoding":{"x":{"field":"x","type":"quantitative"},"y":{"field":"value","type":"quantitative"},"color":{"field":"series","type":"nominal","scale":{"domain":["A-to-G","C-to-T","CBE window"],"range":["#e23a2e","#25259e","#4b4bc8"]},"legend":{"title":null}},"strokeDash":{"field":"series","type":"nominal","scale":{"domain":["A-to-G","C-to-T","CBE window"],"range":[[1,0],[1,0],[2,1.5]]},"legend":{"title":null}}}}
]},
{"width":107,"height":82,"title":"TadDE","layer":[
 {"data":{"name":"windows"},"transform":[{"filter":"datum.p=='TadDE'"}],"mark":{"type":"rect","color":"#e4e4f7"},"encoding":{"x":{"field":"lo","type":"quantitative","scale":{"domain":[-10,20],"nice":false},"axis":{"values":[-10,-5,0,5,10,15,20],"labelOverlap":false,"labelFlush":false,"title":"Protospacer position"}},"x2":{"field":"hi"},"y":{"datum":0,"type":"quantitative","scale":{"domain":[0,1],"nice":false},"axis":{"values":[0,0.2,0.4,0.6,0.8,1],"labelOverlap":false,"labelFlush":false,"labelExpr":"datum.value==0?'0':format(datum.value,'.1f')","title":["Average fraction","of bases converted"]}},"y2":{"datum":1}}},
 {"data":{"values":[{}]},"mark":{"type":"rule","color":"#333","strokeWidth":0.8},"encoding":{"x":{"datum":0.5}}},
 {"data":{"name":"windows"},"transform":[{"filter":"datum.p=='TadDE'"}],"mark":{"type":"rule","strokeWidth":0.8},"encoding":{"y":{"field":"thr","type":"quantitative"},"color":{"datum":"CBE window"},"strokeDash":{"datum":"CBE window"}}},
 {"data":{"name":"curves"},"transform":[{"filter":"datum.p=='TadDE'"},{"fold":["A-to-G","C-to-T"],"as":["series","value"]}],"mark":{"type":"line","strokeWidth":1,"point":{"filled":true,"size":5}},"encoding":{"x":{"field":"x","type":"quantitative"},"y":{"field":"value","type":"quantitative"},"color":{"field":"series","type":"nominal","scale":{"domain":["A-to-G","C-to-T","CBE window"],"range":["#e23a2e","#25259e","#4b4bc8"]},"legend":{"title":null}},"strokeDash":{"field":"series","type":"nominal","scale":{"domain":["A-to-G","C-to-T","CBE window"],"range":[[1,0],[1,0],[2,1.5]]},"legend":{"title":null}}}}
]}
]}
]
},
{
"title": {"text": "c", "anchor": "start", "fontSize": 12, "fontWeight": "bold", "dx": -10, "offset": -9, "color": "#000"},
"spacing": 23,
"bounds": "flush",
"resolve": {"scale": {"color": "independent", "strokeDash": "independent"}},
"hconcat": [
{"width":112,"height":83,"title":{"text":["TadCBEd","(Pos. 4–8 [n = 11,876]; Test R = 0.3569)"],"fontSize":6.3,"lineHeight":7.2},"layer":[
 {"data":{"name":"logo"},"transform":[{"filter":"datum.p=='d_C'"}],"mark":{"type":"bar","opacity":0.68,"clip":true},"encoding":{"x":{"field":"pos","type":"ordinal","scale":{"domain":["-3","-2","-1","0","1","2","3"],"paddingInner":0.08,"paddingOuter":0.04},"axis":{"labelAngle":0,"labelOverlap":false,"labelExpr":"datum.value=='0'?'':datum.value","title":"Position relative to C","titleFontSize":5.5}},"y":{"field":"lo","type":"quantitative","scale":{"domain":[-0.78,0.82],"nice":false,"zero":false},"axis":{"values":[-0.6,-0.4,-0.2,0,0.2,0.4,0.6],"labelOverlap":false,"labelFlush":false,"labelExpr":"datum.value==0?'0':format(datum.value,'.1f')","title":"Logistic regression weights","titleFontSize":5.5}},"y2":{"field":"hi"},"color":{"field":"b","type":"nominal","scale":{"domain":["A","C","G","T"],"range":["#ec4440","#4545d6","#f3bd45","#4fb04f"]},"legend":null}}},
 {"data":{"name":"target"},"transform":[{"filter":"datum.p=='d_C'"}],"mark":{"type":"bar","color":"#cdcdcd","clip":true},"encoding":{"x":{"field":"pos","type":"ordinal"},"y":{"field":"lo","type":"quantitative"},"y2":{"field":"hi"}}},
 {"data":{"name":"logo"},"transform":[{"filter":"datum.p=='d_C' && datum.hi-datum.lo>=0.2"}],"mark":{"type":"text","color":"white","fontWeight":"bold","fontSize":8,"baseline":"top","dy":1},"encoding":{"x":{"field":"pos","type":"ordinal"},"y":{"field":"hi","type":"quantitative"},"text":{"field":"b"}}},
 {"data":{"name":"target"},"transform":[{"filter":"datum.p=='d_C'"}],"mark":{"type":"text","color":"white","fontWeight":"bold","fontSize":8,"baseline":"top","dy":1},"encoding":{"x":{"field":"pos","type":"ordinal"},"y":{"field":"hi","type":"quantitative"},"text":{"field":"b"}}},
 {"data":{"values":[{}]},"mark":{"type":"rule","color":"#666","strokeWidth":0.8},"encoding":{"y":{"datum":0}}}
]},
{"width":112,"height":83,"title":{"text":["TadCBEd","(Pos. 4–8 [n = 11,700]; Test R = 0.6416)"],"fontSize":6.3,"lineHeight":7.2},"layer":[
 {"data":{"name":"logo"},"transform":[{"filter":"datum.p=='d_A'"}],"mark":{"type":"bar","opacity":0.68,"clip":true},"encoding":{"x":{"field":"pos","type":"ordinal","scale":{"domain":["-3","-2","-1","0","1","2","3"],"paddingInner":0.08,"paddingOuter":0.04},"axis":{"labelAngle":0,"labelOverlap":false,"labelExpr":"datum.value=='0'?'':datum.value","title":"Position relative to A","titleFontSize":5.5}},"y":{"field":"lo","type":"quantitative","scale":{"domain":[-1.95,2.05],"nice":false,"zero":false},"axis":{"values":[-1.5,-1,-0.5,0,0.5,1,1.5],"labelOverlap":false,"labelFlush":false,"labelExpr":"datum.value==0?'0':format(datum.value,'.1f')","title":null}},"y2":{"field":"hi"},"color":{"field":"b","type":"nominal","scale":{"domain":["A","C","G","T"],"range":["#ec4440","#4545d6","#f3bd45","#4fb04f"]},"legend":null}}},
 {"data":{"name":"target"},"transform":[{"filter":"datum.p=='d_A'"}],"mark":{"type":"bar","color":"#cdcdcd","clip":true},"encoding":{"x":{"field":"pos","type":"ordinal"},"y":{"field":"lo","type":"quantitative"},"y2":{"field":"hi"}}},
 {"data":{"name":"logo"},"transform":[{"filter":"datum.p=='d_A' && datum.hi-datum.lo>=0.5"}],"mark":{"type":"text","color":"white","fontWeight":"bold","fontSize":8,"baseline":"top","dy":1},"encoding":{"x":{"field":"pos","type":"ordinal"},"y":{"field":"hi","type":"quantitative"},"text":{"field":"b"}}},
 {"data":{"name":"target"},"transform":[{"filter":"datum.p=='d_A'"}],"mark":{"type":"text","color":"white","fontWeight":"bold","fontSize":8,"baseline":"top","dy":1},"encoding":{"x":{"field":"pos","type":"ordinal"},"y":{"field":"hi","type":"quantitative"},"text":{"field":"b"}}},
 {"data":{"values":[{}]},"mark":{"type":"rule","color":"#666","strokeWidth":0.8},"encoding":{"y":{"datum":0}}}
]},
{"width":112,"height":83,"title":{"text":["TadCBEd V106W","(Pos. 4–8 [n = 11,928]; Test R = 0.3048)"],"fontSize":6.3,"lineHeight":7.2},"layer":[
 {"data":{"name":"logo"},"transform":[{"filter":"datum.p=='w_C'"}],"mark":{"type":"bar","opacity":0.68,"clip":true},"encoding":{"x":{"field":"pos","type":"ordinal","scale":{"domain":["-3","-2","-1","0","1","2","3"],"paddingInner":0.08,"paddingOuter":0.04},"axis":{"labelAngle":0,"labelOverlap":false,"labelExpr":"datum.value=='0'?'':datum.value","title":"Position relative to C","titleFontSize":5.5}},"y":{"field":"lo","type":"quantitative","scale":{"domain":[-0.53,0.58],"nice":false,"zero":false},"axis":{"values":[-0.4,-0.2,0,0.2,0.4],"labelOverlap":false,"labelFlush":false,"labelExpr":"datum.value==0?'0':format(datum.value,'.1f')","title":null}},"y2":{"field":"hi"},"color":{"field":"b","type":"nominal","scale":{"domain":["A","C","G","T"],"range":["#ec4440","#4545d6","#f3bd45","#4fb04f"]},"legend":null}}},
 {"data":{"name":"target"},"transform":[{"filter":"datum.p=='w_C'"}],"mark":{"type":"bar","color":"#cdcdcd","clip":true},"encoding":{"x":{"field":"pos","type":"ordinal"},"y":{"field":"lo","type":"quantitative"},"y2":{"field":"hi"}}},
 {"data":{"name":"logo"},"transform":[{"filter":"datum.p=='w_C' && datum.hi-datum.lo>=0.14"}],"mark":{"type":"text","color":"white","fontWeight":"bold","fontSize":8,"baseline":"top","dy":1},"encoding":{"x":{"field":"pos","type":"ordinal"},"y":{"field":"hi","type":"quantitative"},"text":{"field":"b"}}},
 {"data":{"name":"target"},"transform":[{"filter":"datum.p=='w_C'"}],"mark":{"type":"text","color":"white","fontWeight":"bold","fontSize":8,"baseline":"top","dy":1},"encoding":{"x":{"field":"pos","type":"ordinal"},"y":{"field":"hi","type":"quantitative"},"text":{"field":"b"}}},
 {"data":{"values":[{}]},"mark":{"type":"rule","color":"#666","strokeWidth":0.8},"encoding":{"y":{"datum":0}}}
]},
{"width":112,"height":83,"title":{"text":["TadCBEd V106W","(Pos. 4–8 [n = 11,796]; Test R = 0.4006)"],"fontSize":6.3,"lineHeight":7.2},"layer":[
 {"data":{"name":"logo"},"transform":[{"filter":"datum.p=='w_A'"}],"mark":{"type":"bar","opacity":0.68,"clip":true},"encoding":{"x":{"field":"pos","type":"ordinal","scale":{"domain":["-3","-2","-1","0","1","2","3"],"paddingInner":0.08,"paddingOuter":0.04},"axis":{"labelAngle":0,"labelOverlap":false,"labelExpr":"datum.value=='0'?'':datum.value","title":"Position relative to A","titleFontSize":5.5}},"y":{"field":"lo","type":"quantitative","scale":{"domain":[-0.69,0.73],"nice":false,"zero":false},"axis":{"values":[-0.6,-0.4,-0.2,0,0.2,0.4,0.6],"labelOverlap":false,"labelFlush":false,"labelExpr":"datum.value==0?'0':format(datum.value,'.1f')","title":null}},"y2":{"field":"hi"},"color":{"field":"b","type":"nominal","scale":{"domain":["A","C","G","T"],"range":["#ec4440","#4545d6","#f3bd45","#4fb04f"]},"legend":null}}},
 {"data":{"name":"target"},"transform":[{"filter":"datum.p=='w_A'"}],"mark":{"type":"bar","color":"#cdcdcd","clip":true},"encoding":{"x":{"field":"pos","type":"ordinal"},"y":{"field":"lo","type":"quantitative"},"y2":{"field":"hi"}}},
 {"data":{"name":"logo"},"transform":[{"filter":"datum.p=='w_A' && datum.hi-datum.lo>=0.17"}],"mark":{"type":"text","color":"white","fontWeight":"bold","fontSize":8,"baseline":"top","dy":1},"encoding":{"x":{"field":"pos","type":"ordinal"},"y":{"field":"hi","type":"quantitative"},"text":{"field":"b"}}},
 {"data":{"name":"target"},"transform":[{"filter":"datum.p=='w_A'"}],"mark":{"type":"text","color":"white","fontWeight":"bold","fontSize":8,"baseline":"top","dy":1},"encoding":{"x":{"field":"pos","type":"ordinal"},"y":{"field":"hi","type":"quantitative"},"text":{"field":"b"}}},
 {"data":{"values":[{}]},"mark":{"type":"rule","color":"#666","strokeWidth":0.8},"encoding":{"y":{"datum":0}}}
]}
]
}
]
}
